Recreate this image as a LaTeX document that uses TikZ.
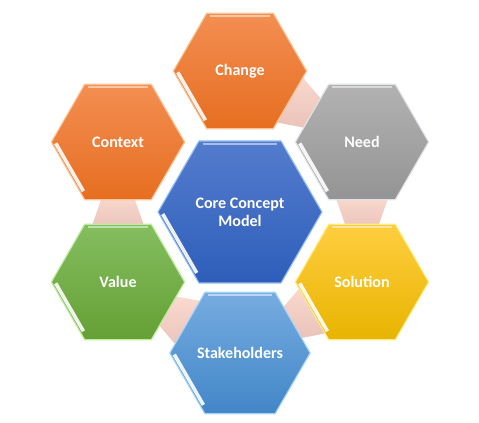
\documentclass[tikz,border=0pt]{standalone}
\usepackage{fontspec}
\setmainfont{Carlito}
\usetikzlibrary{shapes.geometric,calc,backgrounds}
\definecolor{orgtop}{RGB}{243,142,82}
\definecolor{orgbot}{RGB}{230,110,32}
\definecolor{orgline}{RGB}{252,196,150}
\definecolor{grytop}{RGB}{178,178,178}
\definecolor{grybot}{RGB}{148,148,148}
\definecolor{gryline}{RGB}{222,228,234}
\definecolor{coretop}{RGB}{84,124,205}
\definecolor{corebot}{RGB}{46,94,186}
\definecolor{coreline}{RGB}{150,192,242}
\definecolor{grntop}{RGB}{132,190,96}
\definecolor{grnbot}{RGB}{100,160,52}
\definecolor{grnline}{RGB}{190,236,160}
\definecolor{ylwtop}{RGB}{255,206,64}
\definecolor{ylwbot}{RGB}{232,180,0}
\definecolor{ylwline}{RGB}{255,236,130}
\definecolor{skytop}{RGB}{118,172,224}
\definecolor{skybot}{RGB}{66,134,200}
\definecolor{skyline}{RGB}{165,214,248}
\definecolor{pinktop}{RGB}{250,218,208}
\definecolor{pinkbot}{RGB}{234,194,184}
\tikzset{
  hex/.style={regular polygon, regular polygon sides=6, inner sep=0pt, outer sep=0pt,
    text=white, font=\bfseries\fontsize{11.4}{13}\selectfont, align=center, line width=0.8pt,
    path picture={
      \path (path picture bounding box.west) coordinate (pw)
        ($(path picture bounding box.south west)!.25!(path picture bounding box.south east)$) coordinate (ps)
        ($(path picture bounding box.north west)!.25!(path picture bounding box.north east)$) coordinate (pn)
        ($(path picture bounding box.north west)!.75!(path picture bounding box.north east)$) coordinate (pe);
      \draw[white, line width=2.6pt, opacity=.9] ($(pw)!.05!(ps)+(1.9pt,1.1pt)$) -- ($(pw)!.88!(ps)+(1.9pt,1.1pt)$);
      \draw[white, line width=1.6pt, opacity=.5] ($(pn)+(2.5pt,-2pt)$) -- ($(pe)+(-2.5pt,-2pt)$);
    }},
  hexbig/.style={hex, minimum size=4.1cm},
  hexsmall/.style={hex, minimum size=3.33cm},
  link/.style={top color=pinktop, bottom color=pinkbot}
}
\begin{document}
\begin{tikzpicture}[x=0.025cm,y=0.025cm]
\useasboundingbox (0,0) rectangle (479,422);
\node[hexbig, top color=coretop, bottom color=corebot, draw=coreline] (core) at (240,210) {Core Concept\\Model};
\node[hexsmall, top color=orgtop, bottom color=orgbot, draw=orgline] (change) at (240,351) {Change};
\node[hexsmall, top color=grytop, bottom color=grybot, draw=gryline] (need) at (362,280) {Need};
\node[hexsmall, top color=ylwtop, bottom color=ylwbot, draw=ylwline] (solution) at (362,140) {Solution};
\node[hexsmall, top color=skytop, bottom color=skybot, draw=skyline] (stake) at (240,69) {Stakeholders};
\node[hexsmall, top color=grntop, bottom color=grnbot, draw=grnline] (value) at (118,140) {Value};
\node[hexsmall, top color=orgtop, bottom color=orgbot, draw=orgline] (context) at (118,280) {Context};
\begin{scope}[on background layer]
\shade[link] ($(change)!.42!28:(need)$) -- ($(change)!.42!-28:(need)$) -- ($(need)!.384!16:(change)$) -- ($(need)!.384!-16:(change)$) -- cycle;
\shade[link] ($(need)!.42!28:(solution)$) -- ($(need)!.42!-28:(solution)$) -- ($(solution)!.384!16:(need)$) -- ($(solution)!.384!-16:(need)$) -- cycle;
\shade[link] ($(solution)!.42!28:(stake)$) -- ($(solution)!.42!-28:(stake)$) -- ($(stake)!.384!16:(solution)$) -- ($(stake)!.384!-16:(solution)$) -- cycle;
\shade[link] ($(stake)!.42!28:(value)$) -- ($(stake)!.42!-28:(value)$) -- ($(value)!.384!16:(stake)$) -- ($(value)!.384!-16:(stake)$) -- cycle;
\shade[link] ($(value)!.42!28:(context)$) -- ($(value)!.42!-28:(context)$) -- ($(context)!.384!16:(value)$) -- ($(context)!.384!-16:(value)$) -- cycle;
\end{scope}
\end{tikzpicture}
\end{document}
